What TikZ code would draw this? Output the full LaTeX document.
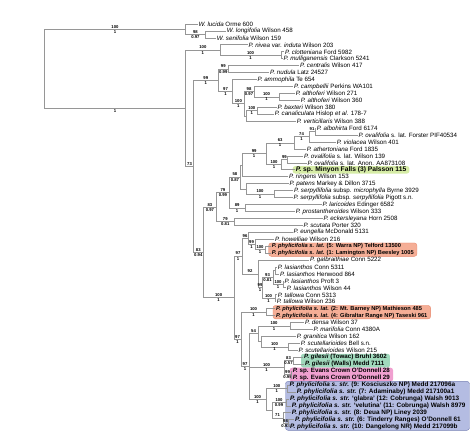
\documentclass[tikz,border=0pt]{standalone}
\usepackage{fontspec}
\setmainfont{Liberation Sans}
\usetikzlibrary{backgrounds,fit}
\definecolor{treegray}{RGB}{150,150,150}
\definecolor{hgreen}{RGB}{214,236,166}
\definecolor{hsalmon}{RGB}{245,174,150}
\definecolor{hsalmonD}{RGB}{230,132,104}
\definecolor{hteal}{RGB}{160,217,188}
\definecolor{hpink}{RGB}{240,160,208}
\definecolor{hblue}{RGB}{180,188,226}
\definecolor{hblueD}{RGB}{118,128,180}
\newcommand{\lffont}{\fontsize{6.2bp}{7bp}\selectfont}
\newcommand{\bsfont}{\fontsize{4.2bp}{4.5bp}\selectfont\bfseries}
\begin{document}
\begin{tikzpicture}[x=1bp,y=-1bp,
  br/.style={draw=treegray, line width=0.7bp},
  lf/.style={anchor=west, inner sep=0.8bp, font=\lffont},
  hl/.style={anchor=west, inner sep=0.8bp, font=\lffont\bfseries},
  hlm/.style={anchor=west, inner sep=0.8bp, font=\fontsize{6.7bp}{7bp}\selectfont\bfseries},
  hll/.style={anchor=west, inner sep=0.8bp, font=\fontsize{5.7bp}{7bp}\selectfont\bfseries},
  hls/.style={anchor=west, inner sep=0.8bp, font=\fontsize{6.4bp}{7bp}\selectfont\bfseries},
  bs/.style={above, pos=0.75, inner sep=0.8bp, font=\bsfont},
  pp/.style={below, pos=0.75, inner sep=0.8bp, font=\bsfont},
  hbox/.style={rounded corners=2.5bp, inner xsep=2.2bp, inner ysep=-0.4bp}]
\useasboundingbox (0,0) rectangle (474,447);
% ---------- leaves ----------
\node[lf] (l1) at (197.5,24.0) {\textit{W. lucida} Orme 600};
\node[lf] (l2) at (225.9,30.9) {\textit{W. longifolia} Wilson 458};
\node[lf] (l3) at (215.9,37.9) {\textit{W. senifolia} Wilson 159};
\node[lf] (l4) at (247.5,44.8) {\textit{P. nivea} var. \textit{induta} Wilson 203};
\node[lf] (l5) at (284.2,51.8) {\textit{P. clotteniana} Ford 5982};
\node[lf] (l6) at (282.5,58.7) {\textit{P. mulliganensis} Clarkson 5241};
\node[lf] (l7) at (299.2,65.7) {\textit{P. centralis} Wilson 417};
\node[lf] (l8) at (269.2,72.6) {\textit{P. nudula} Latz 24527};
\node[lf] (l9) at (256.5,79.5) {\textit{P. ammophila} Te 654};
\node[lf] (l10) at (293.2,86.5) {\textit{P. campbellii} Perkins WA101};
\node[lf] (l11) at (294.9,93.4) {\textit{P. althoferi} Wilson 271};
\node[lf] (l12) at (299.9,100.4) {\textit{P. althoferi} Wilson 360};
\node[lf] (l13) at (276.5,107.3) {\textit{P. baxteri} Wilson 380};
\node[lf] (l14) at (273.9,114.3) {\textit{P. canaliculata} Hislop \textit{et al.} 178-7};
\node[lf] (l15) at (295.9,121.2) {\textit{P. verticillaris} Wilson 388};
\node[lf] (l16) at (315.9,128.1) {\textit{P. albohirta} Ford 6174};
\node[lf] (l17) at (357.5,135.1) {\textit{P. ovalifolia} s. lat. Forster PIF40534};
\node[lf] (l18) at (335.9,142.0) {\textit{P. violacea} Wilson 401};
\node[lf] (l19) at (305.9,149.0) {\textit{P. athertoniana} Ford 1835};
\node[lf] (l20) at (303.2,155.9) {\textit{P. ovalifolia} s. lat. Wilson 139};
\node[lf] (l21) at (306.5,162.9) {\textit{P. ovalifolia} s. lat. Anon. AA873108};
\node[hlm] (l22) at (294.9,169.8) {\textit{P.} sp. Minyon Falls (3) Palsson 115};
\node[lf] (l23) at (288.2,176.7) {\textit{P. ringens} Wilson 153};
\node[lf] (l24) at (288.5,183.7) {\textit{P. patens} Markey \& Dillon 3715};
\node[lf] (l25) at (293.2,190.6) {\textit{P. serpyllifolia} subsp. \textit{microphylla} Byrne 3929};
\node[lf] (l26) at (292.5,197.6) {\textit{P. serpyllifolia} subsp. \textit{serpyllifolia} Pigott s.n.};
\node[lf] (l27) at (321.5,204.5) {\textit{P. laricoides} Edinger 6582};
\node[lf] (l28) at (294.9,211.5) {\textit{P. prostantheroides} Wilson 333};
\node[lf] (l29) at (322.5,218.4) {\textit{P. eckersleyana} Horn 2508};
\node[lf] (l30) at (302.5,225.3) {\textit{P. scutata} Porter 320};
\node[lf] (l31) at (292.5,232.3) {\textit{P. eungella} McDonald 5131};
\node[lf] (l32) at (274.2,239.2) {\textit{P. howelliae} Wilson 216};
\node[hll] (l33) at (270.9,246.2) {\textit{P. phylicifolia s. lat.} (5: Warra NP) Telford 13500};
\node[hll] (l34) at (270.9,253.1) {\textit{P. phylicifolia s. lat.} (1: Lamington NP) Beesley 1005};
\node[lf] (l35) at (309.2,260.1) {\textit{P. galbraithiae} Conn 5222};
\node[lf] (l36) at (276.9,267.0) {\textit{P. lasianthos} Conn 5311};
\node[lf] (l37) at (279.2,273.9) {\textit{P. lasianthos} Henwood 864};
\node[lf] (l38) at (283.5,280.9) {\textit{P. lasianthos} Proft 3};
\node[lf] (l39) at (285.9,287.8) {\textit{P. lasianthos} Wilson 44};
\node[lf] (l40) at (276.9,294.8) {\textit{P. tallowa} Conn 5313};
\node[lf] (l41) at (275.9,301.7) {\textit{P. tallowa} Wilson 236};
\node[hll] (l42) at (275.2,308.7) {\textit{P. phylicifolia s. lat.} (2: Mt. Barney NP) Mathieson 485};
\node[hll] (l43) at (275.2,315.6) {\textit{P. phylicifolia s. lat.} (4: Gibraltar Range NP) Taseski 961};
\node[lf] (l44) at (304.2,322.6) {\textit{P. densa} Wilson 37};
\node[lf] (l45) at (312.5,329.5) {\textit{P. marifolia} Conn 4380A};
\node[lf] (l46) at (295.9,336.4) {\textit{P. granitica} Wilson 162};
\node[lf] (l47) at (299.9,343.4) {\textit{P. scutellarioides} Bell s.n.};
\node[lf] (l48) at (297.5,350.3) {\textit{P. scutellarioides} Wilson 215};
\node[hl] (l49) at (303.2,357.3) {\textit{P. gilesii} (Towac) Bruhl 3602};
\node[hl] (l50) at (304.2,364.2) {\textit{P. gilesii} (Walls) Medd 7111};
\node[hl] (l51) at (291.9,371.2) {\textit{P.} sp. Evans Crown O'Donnell 28};
\node[hl] (l52) at (291.9,378.1) {\textit{P.} sp. Evans Crown O'Donnell 29};
\node[hls] (l53) at (288.5,385.0) {\textit{P. phylicifolia s. str.} (9: Kosciuszko NP) Medd 217096a};
\node[hls] (l54) at (295.9,392.0) {\textit{P. phylicifolia s. str.} (7: Adaminaby) Medd 217100a1};
\node[hls] (l55) at (289.2,398.9) {\textit{P. phylicifolia s. str.} `glabra' (12: Cobrunga) Walsh 9013};
\node[hls] (l56) at (290.9,405.9) {\textit{P. phylicifolia s. str.} `velutina' (11: Cobrunga) Walsh 8979};
\node[hls] (l57) at (290.9,412.8) {\textit{P. phylicifolia s. str.} (8: Deua NP) Liney 2039};
\node[hls] (l58) at (294.2,419.8) {\textit{P. phylicifolia s. str.} (6: Tinderry Ranges) O'Donnell 61};
\node[hls] (l59) at (289.2,426.7) {\textit{P. phylicifolia s. str.} (10: Dangelong NR) Medd 217099b};
% ---------- highlight boxes ----------
\begin{scope}[on background layer]
\node[hbox, fill=hgreen, fit=(l22)] (bx1) {};
\node[hbox, fill=hsalmon, draw=hsalmonD, line width=0.3bp, fit=(l33)(l34)] (bx2) {};
\node[hbox, fill=hsalmon, draw=hsalmonD, line width=0.3bp, fit=(l42)(l43)] (bx3) {};
\node[hbox, fill=hteal, fit=(l49)(l50)] (bx4) {};
\node[hbox, fill=hpink, fit=(l51)(l52)] (bx5) {};
\node[hbox, fill=hblue, draw=hblueD, line width=0.4bp, inner xsep=3bp, fit=(l53)(l54)(l55)(l56)(l57)(l58)(l59)] (bx6) {};
\end{scope}
% ---------- internal nodes ----------
\coordinate (root) at (44.3,68.7);
\coordinate (wA) at (185.7,29.2);
\coordinate (wB) at (205,34.4);
\coordinate (P0) at (185.7,108.2);
\coordinate (N1) at (220,50.0);
\coordinate (N2) at (281,55.25);
\coordinate (P1) at (193.3,166.45);
\coordinate (D) at (218.3,80.4);
\coordinate (C) at (228.3,69.15);
\coordinate (E) at (232.7,91.7);
\coordinate (F) at (244,103.85);
\coordinate (G) at (254,91.7);
\coordinate (H) at (279,96.9);
\coordinate (I) at (246,116.0);
\coordinate (J) at (257.5,110.8);
\coordinate (Q) at (203.3,252.5);
\coordinate (R) at (216.5,207.2);
\coordinate (Rp) at (229.3,192.5);
\coordinate (Rpp) at (240.5,177.05);
\coordinate (U) at (242,165.2);
\coordinate (X) at (266.3,153.75);
\coordinate (K3) at (294,142.9);
\coordinate (K2) at (309,136.8);
\coordinate (K1) at (315,131.6);
\coordinate (Y) at (281.7,164.6);
\coordinate (Z) at (287,159.4);
\coordinate (V1) at (246,188.9);
\coordinate (SP) at (274,194.1);
\coordinate (R2) at (245,208.0);
\coordinate (T) at (234,221.85);
\coordinate (Q2) at (234,297.8);
\coordinate (A1) at (242,256.15);
\coordinate (A3) at (248,238.35);
\coordinate (A5) at (255,244.4);
\coordinate (A6) at (265,249.65);
\coordinate (A4) at (258,273.95);
\coordinate (A7) at (262,287.8);
\coordinate (A8) at (273,277.4);
\coordinate (A10) at (275.5,270.45);
\coordinate (A11) at (283,284.35);
\coordinate (A9) at (275,298.25);
\coordinate (A2) at (241,339.4);
\coordinate (B1) at (266,312.15);
\coordinate (B2) at (249,366.6);
\coordinate (B5) at (258,333.8);
\coordinate (B3) at (290,326.05);
\coordinate (B7) at (261,341.6);
\coordinate (B4) at (288,346.85);
\coordinate (G1) at (284,367.7);
\coordinate (GG) at (293,360.75);
\coordinate (EV) at (291,374.65);
\coordinate (SS) at (266,399.35);
\coordinate (SS1) at (287.5,388.5);
\coordinate (SS2) at (272,410.2);
\coordinate (SSgv) at (286,402.4);
\coordinate (SSdt) at (283,418.0);
\coordinate (TD) at (288,423.25);
% ---------- branches ----------
\draw[br] (root) |- node[bs]{100} node[pp]{1} (wA);
\draw[br] (root) |- node[pp]{1} (P0);
\draw[br] (wA) |- (l1.west);
\draw[br] (wA) |- node[bs]{98} node[pp]{0.97} (wB);
\draw[br] (wB) |- (l2.west);
\draw[br] (wB) |- (l3.west);
\draw[br] (P0) |- node[bs]{100} node[pp]{1} (N1);
\draw[br] (N1) |- (l4.west);
\draw[br] (N1) |- node[bs]{100} node[pp]{1} (N2);
\draw[br] (N2) |- (l5.west);
\draw[br] (N2) |- (l6.west);
\draw[br] (P0) |- node[bs]{73} (P1);
\draw[br] (P1) |- node[bs]{99} node[pp]{1} (D);
\draw[br] (D) |- node[bs]{99} node[pp]{0.99} (C);
\draw[br] (C) |- (l7.west);
\draw[br] (C) |- (l8.west);
\draw[br] (D) |- node[bs]{97} node[pp]{1} (E);
\draw[br] (E) |- (l9.west);
\draw[br] (E) |- node[bs]{100} node[pp]{1} (F);
\draw[br] (F) |- node[bs]{98} node[pp]{0.97} (G);
\draw[br] (G) |- (l10.west);
\draw[br] (G) |- node[bs]{100} node[pp]{1} (H);
\draw[br] (H) |- (l11.west);
\draw[br] (H) |- (l12.west);
\draw[br] (F) |- (I);
\draw[br] (I) |- node[bs]{100} node[pp]{1} (J);
\draw[br] (J) |- (l13.west);
\draw[br] (J) |- (l14.west);
\draw[br] (I) |- (l15.west);
\draw[br] (P1) |- node[bs]{83} node[pp]{0.94} (Q);
\draw[br] (Q) |- node[bs]{83} node[pp]{0.97} (R);
\draw[br] (R) |- node[bs]{79} node[pp]{0.99} (Rp);
\draw[br] (Rp) |- node[bs]{58} node[pp]{0.87} (Rpp);
\draw[br] (Rpp) |- (U);
\draw[br] (U) |- node[bs]{99} node[pp]{1} (X);
\draw[br] (X) |- node[bs]{63} node[pp]{1} (K3);
\draw[br] (K3) |- node[bs]{74} node[pp]{1} (K2);
\draw[br] (K2) |- node[bs]{91} (K1);
\draw[br] (K1) |- (l16.west);
\draw[br] (K1) |- (l17.west);
\draw[br] (K2) |- (l18.west);
\draw[br] (K3) |- (l19.west);
\draw[br] (X) |- node[bs]{100} node[pp]{1} (Y);
\draw[br] (Y) |- node[bs]{99} (Z);
\draw[br] (Z) |- (l20.west);
\draw[br] (Z) |- (l21.west);
\draw[br] (Y) |- (l22.west);
\draw[br] (U) |- (l23.west);
\draw[br] (Rpp) |- (V1);
\draw[br] (V1) |- (l24.west);
\draw[br] (V1) |- node[bs]{100} node[pp]{1} (SP);
\draw[br] (SP) |- (l25.west);
\draw[br] (SP) |- (l26.west);
\draw[br] (Rp) |- node[bs]{89} node[pp]{1} (R2);
\draw[br] (R2) |- (l27.west);
\draw[br] (R2) |- (l28.west);
\draw[br] (R) |- node[bs]{79} node[pp]{0.81} (T);
\draw[br] (T) |- (l29.west);
\draw[br] (T) |- (l30.west);
\draw[br] (Q) |- node[bs]{100} node[pp]{1} (Q2);
\draw[br] (Q2) |- node[bs]{97} node[pp]{1} (A1);
\draw[br] (A1) |- node[bs]{96} (A3);
\draw[br] (A3) |- (l31.west);
\draw[br] (A3) |- node[bs]{99} node[pp]{1} (A5);
\draw[br] (A5) |- (l32.west);
\draw[br] (A5) |- node[bs]{100} node[pp]{1} (A6);
\draw[br] (A6) |- (l33.west);
\draw[br] (A6) |- (l34.west);
\draw[br] (A1) |- node[bs]{92} (A4);
\draw[br] (A4) |- (l35.west);
\draw[br] (A4) |- node[bs]{99} node[pp]{1} (A7);
\draw[br] (A7) |- node[bs]{93} node[pp]{0.81} (A8);
\draw[br] (A8) |- (A10);
\draw[br] (A10) |- (l36.west);
\draw[br] (A10) |- (l37.west);
\draw[br] (A8) |- node[bs]{100} node[pp]{1} (A11);
\draw[br] (A11) |- (l38.west);
\draw[br] (A11) |- (l39.west);
\draw[br] (A7) |- node[bs]{100} node[pp]{1} (A9);
\draw[br] (A9) |- (l40.west);
\draw[br] (A9) |- (l41.west);
\draw[br] (Q2) |- node[bs]{97} node[pp]{1} (A2);
\draw[br] (A2) |- node[bs]{100} node[pp]{1} (B1);
\draw[br] (B1) |- (l42.west);
\draw[br] (B1) |- (l43.west);
\draw[br] (A2) |- node[bs]{97} node[pp]{1} (B2);
\draw[br] (B2) |- node[bs]{54} (B5);
\draw[br] (B5) |- node[bs]{100} node[pp]{1} (B3);
\draw[br] (B3) |- (l44.west);
\draw[br] (B3) |- (l45.west);
\draw[br] (B5) |- (B7);
\draw[br] (B7) |- (l46.west);
\draw[br] (B7) |- node[bs]{100} node[pp]{1} (B4);
\draw[br] (B4) |- (l47.west);
\draw[br] (B4) |- (l48.west);
\draw[br] (B2) |- node[bs]{100} node[pp]{1} (G1);
\draw[br] (G1) |- node[bs]{83} node[pp]{0.57} (GG);
\draw[br] (GG) |- (l49.west);
\draw[br] (GG) |- (l50.west);
\draw[br] (G1) |- node[bs]{99} node[pp]{0.95} (EV);
\draw[br] (EV) |- (l51.west);
\draw[br] (EV) |- (l52.west);
\draw[br] (B2) |- node[bs]{100} node[pp]{1} (SS);
\draw[br] (SS) |- node[bs]{100} node[pp]{1} (SS1);
\draw[br] (SS1) |- (l53.west);
\draw[br] (SS1) |- (l54.west);
\draw[br] (SS) |- (SS2);
\draw[br] (SS2) |- node[bs]{100} node[pp]{0.99} (SSgv);
\draw[br] (SSgv) |- (l55.west);
\draw[br] (SSgv) |- (l56.west);
\draw[br] (SS2) |- node[bs]{71} (SSdt);
\draw[br] (SSdt) |- (l57.west);
\draw[br] (SSdt) |- node[bs]{98} node[pp]{0.93} (TD);
\draw[br] (TD) |- (l58.west);
\draw[br] (TD) |- (l59.west);
\end{tikzpicture}
\end{document}
